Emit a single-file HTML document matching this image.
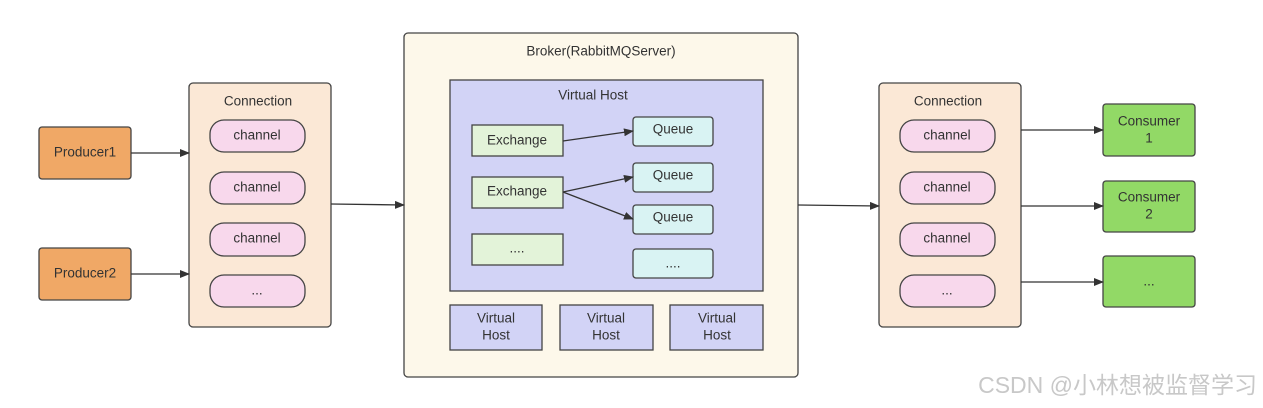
<!DOCTYPE html>
<html><head><meta charset="utf-8"><style>
html,body{margin:0;padding:0;background:#fff;}
svg{display:block;font-family:"Liberation Sans","Noto Sans CJK SC",sans-serif;}
text{fill:#333;font-size:13.5px;text-anchor:middle;dominant-baseline:middle;}
</style></head><body>
<svg width="1263" height="408" viewBox="0 0 1263 408" xmlns="http://www.w3.org/2000/svg">
<defs><marker id="a" markerWidth="10" markerHeight="8" refX="9" refY="4" orient="auto" markerUnits="userSpaceOnUse"><path d="M0,0 L10,4 L0,8 z" fill="#333"/></marker></defs>
<g stroke="#444" stroke-width="1.3">
<rect x="39" y="127" width="92" height="52" rx="3" fill="#f0a866"/>
<rect x="39" y="248" width="92" height="52" rx="3" fill="#f0a866"/>
<rect x="189" y="83" width="142" height="244" rx="4" fill="#fbe8d6"/>
<rect x="210" y="120" width="95" height="32" rx="14" fill="#f8d8ec"/>
<rect x="210" y="172" width="95" height="32" rx="14" fill="#f8d8ec"/>
<rect x="210" y="223" width="95" height="33" rx="14" fill="#f8d8ec"/>
<rect x="210" y="275" width="95" height="32" rx="14" fill="#f8d8ec"/>
<rect x="404" y="33" width="394" height="344" rx="4" fill="#fdf8ea"/>
<rect x="450" y="80" width="313" height="211" fill="#d2d3f6"/>
<rect x="472" y="125" width="91" height="31" fill="#e3f3d9"/>
<rect x="472" y="177" width="91" height="31" fill="#e3f3d9"/>
<rect x="472" y="234" width="91" height="31" fill="#e3f3d9"/>
<rect x="633" y="117" width="80" height="29" rx="3" fill="#d9f3f3"/>
<rect x="633" y="163" width="80" height="29" rx="3" fill="#d9f3f3"/>
<rect x="633" y="205" width="80" height="29" rx="3" fill="#d9f3f3"/>
<rect x="633" y="249" width="80" height="29" rx="3" fill="#d9f3f3"/>
<rect x="450" y="305" width="92" height="45" fill="#d2d3f6"/>
<rect x="560" y="305" width="93" height="45" fill="#d2d3f6"/>
<rect x="670" y="305" width="93" height="45" fill="#d2d3f6"/>
<rect x="879" y="83" width="142" height="244" rx="4" fill="#fbe8d6"/>
<rect x="900" y="120" width="95" height="32" rx="14" fill="#f8d8ec"/>
<rect x="900" y="172" width="95" height="32" rx="14" fill="#f8d8ec"/>
<rect x="900" y="223" width="95" height="33" rx="14" fill="#f8d8ec"/>
<rect x="900" y="275" width="95" height="32" rx="14" fill="#f8d8ec"/>
<rect x="1103" y="104" width="92" height="52" rx="3" fill="#92d966"/>
<rect x="1103" y="181" width="92" height="51" rx="3" fill="#92d966"/>
<rect x="1103" y="256" width="92" height="51" rx="3" fill="#92d966"/>
</g>
<g stroke="#333" stroke-width="1.3" fill="none" marker-end="url(#a)">
<line x1="131" y1="153" x2="189" y2="153"/>
<line x1="131" y1="274" x2="189" y2="274"/>
<line x1="331" y1="204" x2="404" y2="205"/>
<line x1="798" y1="205" x2="879" y2="206"/>
<line x1="1021" y1="130" x2="1103" y2="130"/>
<line x1="1021" y1="206" x2="1103" y2="206"/>
<line x1="1021" y1="282" x2="1103" y2="282"/>
<line x1="563" y1="141" x2="633" y2="131"/>
<line x1="563" y1="192" x2="633" y2="177"/>
<line x1="563" y1="192" x2="633" y2="219"/>
</g>
<text x="85" y="153">Producer1</text>
<text x="85" y="274">Producer2</text>
<text x="258" y="102">Connection</text>
<text x="257" y="136">channel</text><text x="257" y="188">channel</text><text x="257" y="239">channel</text><text x="257" y="291">...</text>
<text x="601" y="52">Broker(RabbitMQServer)</text>
<text x="593" y="96">Virtual Host</text>
<text x="517" y="141">Exchange</text><text x="517" y="192">Exchange</text><text x="517" y="249">....</text>
<text x="673" y="130">Queue</text><text x="673" y="176">Queue</text><text x="673" y="218">Queue</text><text x="673" y="264">....</text>
<text x="496" y="319">Virtual</text><text x="496" y="336">Host</text>
<text x="606" y="319">Virtual</text><text x="606" y="336">Host</text>
<text x="717" y="319">Virtual</text><text x="717" y="336">Host</text>
<text x="948" y="102">Connection</text>
<text x="947" y="136">channel</text><text x="947" y="188">channel</text><text x="947" y="239">channel</text><text x="947" y="291">...</text>
<text x="1149" y="122">Consumer</text><text x="1149" y="139">1</text>
<text x="1149" y="198">Consumer</text><text x="1149" y="215">2</text>
<text x="1149" y="282">...</text>
<text x="1257" y="387" style="fill:#c8c8c8;font-size:23px;text-anchor:end">CSDN @小林想被监督学习</text>
</svg>
</body></html>
